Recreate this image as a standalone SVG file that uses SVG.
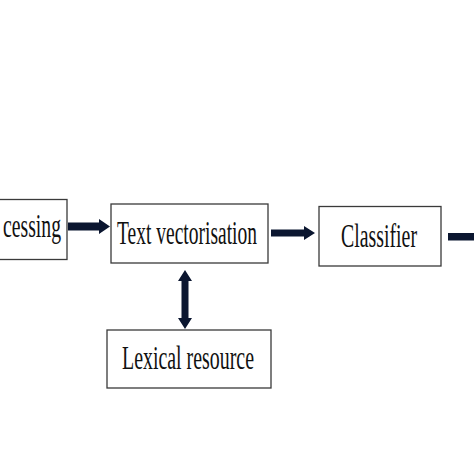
<svg xmlns="http://www.w3.org/2000/svg" width="474" height="474" viewBox="0 0 474 474">
<style>
.box{fill:#fff;stroke:#3a3a3a;stroke-width:1.3}
.lbl{font-family:"Liberation Serif","Times New Roman",serif;font-size:33px;fill:#111}
.arr{fill:#0b1630}
</style>
<rect width="474" height="474" fill="#fff"/>
<g id="node-preprocessing">
<rect class="box" x="-20" y="199.5" width="87" height="60"/>
<text class="lbl" x="61" y="237" text-anchor="end" textLength="58" lengthAdjust="spacingAndGlyphs">cessing</text>
</g>
<g id="node-vectorisation">
<rect class="box" x="111" y="204" width="157" height="59"/>
<text class="lbl" x="117" y="243.5" textLength="140" lengthAdjust="spacingAndGlyphs">Text vectorisation</text>
</g>
<g id="node-classifier">
<rect class="box" x="319" y="206.5" width="122" height="59.5"/>
<text class="lbl" x="341" y="246.5" textLength="76" lengthAdjust="spacingAndGlyphs">Classifier</text>
</g>
<g id="node-lexical">
<rect class="box" x="107" y="330" width="164" height="58"/>
<text class="lbl" x="122" y="368.5" textLength="132" lengthAdjust="spacingAndGlyphs">Lexical resource</text>
</g>
<g id="connectors">
<polygon class="arr" points="68,222.5 99,222.5 99,219 110,226.5 99,234 99,230.5 68,230.5"/>
<polygon class="arr" points="271,229.5 304,229.5 304,226 315,233 304,240 304,236.5 271,236.5"/>
<rect class="arr" x="448" y="233" width="26" height="7.5"/>
<polygon class="arr" points="185,270 192,281 188.5,281 188.5,318 192,318 185,329 178,318 181.5,318 181.5,281 178,281"/>
</g>
</svg>
